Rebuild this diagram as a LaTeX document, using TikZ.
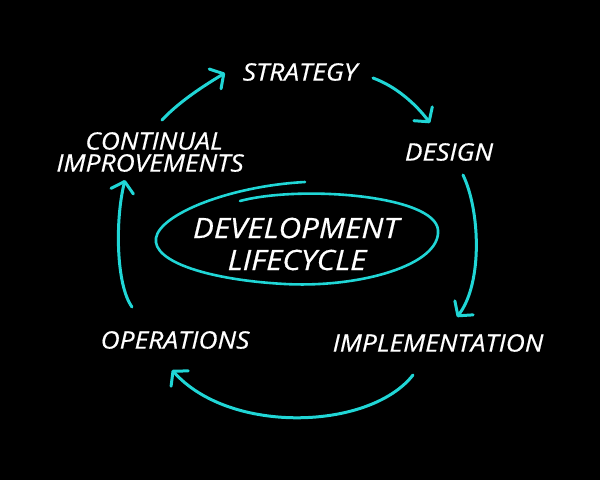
\documentclass[tikz,border=0pt]{standalone}
\usepackage{fontspec}
\setmainfont{Open Sans}
\newfontfamily\chalk[FakeBold=0.5]{Open Sans}
\usetikzlibrary{arrows.meta}
\definecolor{cyanline}{RGB}{32,214,214}
\newcommand{\wideL}[1]{\scalebox{1.1}[1]{#1}}
\newcommand{\wideB}[1]{\scalebox{1.12}[1]{#1}}
\tikzset{
  lbl/.style={text=white, font=\chalk\itshape\fontsize{24}{28}\selectfont, inner sep=0pt, align=center},
  biglbl/.style={text=white, font=\chalk\itshape\fontsize{28}{32}\selectfont, inner sep=0pt, align=center},
  cyc/.style={draw=cyanline, line width=3pt, line cap=round,
    -{Straight Barb[length=10pt, width=23pt, round]}},
  ring/.style={draw=cyanline, line width=2.6pt, line cap=round}
}
\begin{document}
\begin{tikzpicture}[x=1pt,y=-1pt]
\fill[black] (0,0) rectangle (600,480);
\useasboundingbox (0,0) rectangle (600,480);

\node[lbl] (strategy) at (300,72) {\wideL{STRATEGY}};
\node[lbl] (design) at (449,152) {\wideL{DESIGN}};
\node[lbl] (impl) at (438,343) {\wideL{IMPLEMENTATION}};
\node[lbl] (ops) at (175,340) {\wideL{OPERATIONS}};
\node[lbl] (cont) at (154,141) {\wideL{CONTINUAL}};
\node[lbl] (impr) at (150,163) {\wideL{IMPROVEMENTS}};
\node[biglbl] (dev) at (296,228) {\wideB{DEVELOPMENT}};
\node[biglbl] (life) at (297,260) {\wideB{LIFECYCLE}};

\coordinate (a1s) at (162,120); \coordinate (a1e) at (225,73);
\coordinate (a2s) at (373,78);  \coordinate (a2e) at (430,123);
\coordinate (a3s) at (463,175); \coordinate (a3e) at (457,317);
\coordinate (a4s) at (413,375); \coordinate (a4e) at (172,370);
\coordinate (a5s) at (132,307); \coordinate (a5e) at (125,180);

\draw[cyc] (a1s) .. controls (178,103) and (200,88) .. (a1e);
\draw[cyc] (a2s) .. controls (395,86) and (415,103) .. (a2e);
\draw[cyc] (a3s) .. controls (480,210) and (483,283) .. (a3e);
\draw[cyc] (a4s) .. controls (370,430) and (230,435) .. (a4e);
\draw[cyc] (a5s) .. controls (116,285) and (115,220) .. (a5e);

\coordinate (rs) at (240,201); \coordinate (re) at (305,182);
\draw[ring] (rs) .. controls (300,185) and (435,195) .. (438,230)
  .. controls (441,265) and (360,288) .. (285,284)
  .. controls (210,280) and (152,262) .. (156,238)
  .. controls (160,214) and (230,186) .. (re);
\end{tikzpicture}
\end{document}
